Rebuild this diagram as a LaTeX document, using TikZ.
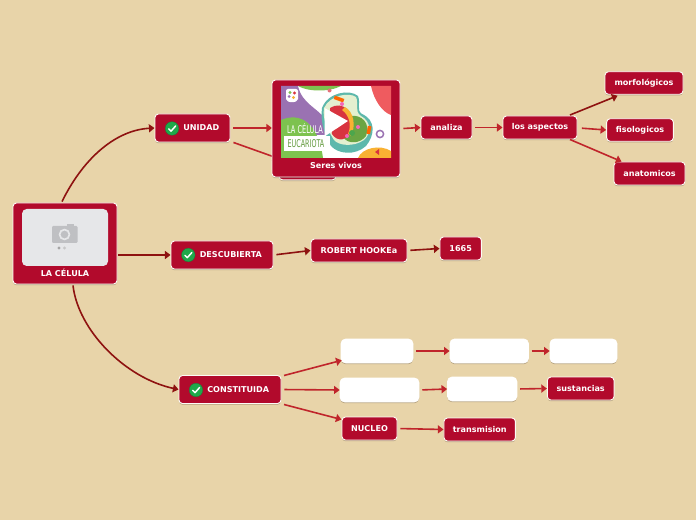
\documentclass[tikz,border=0pt]{standalone}
\usepackage{fontspec}
\usepackage{graphicx}
\setmainfont{DejaVu Sans}
\usetikzlibrary{arrows.meta,shadows,calc}
\definecolor{bgc}{HTML}{E8D4A9}
\definecolor{boxc}{HTML}{B20A2C}
\definecolor{darkc}{HTML}{8E1210}
\definecolor{redc}{HTML}{C0252B}
\definecolor{thumbgray}{HTML}{E6E7E9}
\definecolor{camgray}{HTML}{BFC0C3}
\definecolor{okgreen}{HTML}{1FA84A}
\definecolor{tpurple}{HTML}{9A72B2}
\definecolor{tgreen}{HTML}{7DC24F}
\definecolor{tcoral}{HTML}{EF5B5F}
\definecolor{tyellow}{HTML}{F9B233}
\definecolor{tteal}{HTML}{5DB8AC}
\definecolor{tlight}{HTML}{E4F0D0}
\definecolor{tred}{HTML}{D8343F}
\tikzset{
  x=0.75pt,y=-0.75pt,
  softshadow/.style={drop shadow={shadow xshift=0pt,shadow yshift=-0.9pt,opacity=.3,fill=black!70!brown}},
  labelfont/.style={font=\bfseries\fontsize{6.05}{8}\selectfont},
  redbox/.style={draw=white!90!bgc,line width=0.7pt,fill=boxc,rounded corners=2.6pt,inner sep=0pt,softshadow,
    text=white,labelfont,align=center},
  whitebox/.style={draw=white,line width=0.5pt,fill=white,rounded corners=3.4pt,inner sep=0pt,softshadow},
  conn/.style={line width=1.2pt,color=redc,-{Triangle[length=4.2pt,width=6pt]},shorten <=2.2pt},
  dconn/.style={conn,color=darkc},
  okcirc/.style={circle,fill=okgreen,draw=okgreen!70!black,line width=0.2pt,minimum size=10.2pt,inner sep=0pt},
  okmark/.style={draw=white,line width=1.1pt,line cap=round,line join=round},
  boxlabel/.style={text=white,labelfont,anchor=west,inner sep=0pt},
}
\begin{document}
\begin{tikzpicture}
\useasboundingbox (0,0) rectangle (696,520);
\fill[bgc] (0,0) rectangle (696,520);

\node[redbox,minimum width=78pt,minimum height=60.75pt] (cell) at (65,243.5) {};
\node[redbox,minimum width=56.25pt,minimum height=21pt] (unidad) at (192.5,128) {};
\node[redbox,minimum width=76.5pt,minimum height=21pt] (desc) at (222,255) {};
\node[redbox,minimum width=76.5pt,minimum height=21pt] (cons) at (230,389.5) {};
\node[redbox,minimum width=42.75pt,minimum height=32pt] (hidden) at (307.5,158.5) {};

\coordinate (c1) at ($(cell.north)+(-3,-1)$);
\coordinate (c2) at ($(cell.south)+(8,1)$);
\draw[dconn,shorten <=0pt] (c1) .. controls (85,155) and (118,130) .. (unidad.west);
\draw[dconn,shorten <=0.5pt] (cell.east |- desc.west) -- (desc.west);
\draw[dconn,shorten <=0pt] (c2) .. controls (78,330) and (125,378) .. (cons.west);
\draw[conn] (unidad.east) -- (272,128);
\coordinate (u3) at ($(unidad.south east)+(3,0)$);
\draw[conn,shorten <=0pt] (u3) -- (hidden.west);

\node[redbox,minimum width=96pt,minimum height=72.75pt] (pic) at (336,128.5) {};
\node[redbox,minimum width=38.25pt,minimum height=17.25pt] (analiza) at (446.5,127.5) {analiza};
\node[redbox,minimum width=55.5pt,minimum height=17.25pt] (asp) at (540,127.5) {los aspectos};
\node[redbox,minimum width=58.5pt,minimum height=16.9pt] (morf) at (644,83) {morfológicos};
\node[redbox,minimum width=50pt,minimum height=16.9pt] (fis) at (640,130) {fisologicos};
\node[redbox,minimum width=53.25pt,minimum height=17.25pt] (anat) at (649.5,173.5) {anatomicos};
\node[redbox,minimum width=72pt,minimum height=17.25pt] (rob) at (359,250.5) {ROBERT HOOKEa};
\node[redbox,minimum width=31.1pt,minimum height=17.25pt] (y1665) at (460.7,248.5) {1665};
\node[whitebox,minimum width=54pt,minimum height=18pt] (w1) at (377,351) {};
\node[whitebox,minimum width=58.9pt,minimum height=18pt] (w2) at (489.2,351) {};
\node[whitebox,minimum width=50.25pt,minimum height=18pt] (w3) at (583.5,351) {};
\node[whitebox,minimum width=59.25pt,minimum height=18pt] (w4) at (379.5,390) {};
\node[whitebox,minimum width=52.1pt,minimum height=18pt] (w5) at (482.2,389) {};
\node[redbox,minimum width=50pt,minimum height=17.25pt] (sust) at (580.7,388.5) {sustancias};
\node[redbox,minimum width=41.25pt,minimum height=17.25pt] (nuc) at (369.5,428.5) {NUCLEO};
\node[redbox,minimum width=53.6pt,minimum height=17.25pt] (trans) at (479.7,429.5) {transmision};

\coordinate (p1) at ($(pic.east)+(3,0)$);
\draw[conn,shorten <=0pt] (p1) -- (analiza.west);
\draw[conn] (analiza.east) -- (asp.west);
\coordinate (s1) at (570,115);
\coordinate (s2) at (579,128);
\coordinate (s3) at (570,139.5);
\coordinate (t1) at ($(morf.south west)+(13,1)$);
\coordinate (t3) at ($(anat.north west)+(8,0)$);
\draw[dconn,shorten <=0pt] (s1) -- (t1);
\draw[conn] (s2) -- (fis.west);
\draw[conn,shorten <=0pt] (s3) -- (t3);
\draw[dconn] (desc.east) -- (rob.west);
\draw[dconn] (rob.east) -- (y1665.west);
\coordinate (k1) at (284,375.5);
\coordinate (k3) at (284,404.5);
\coordinate (t4) at ($(w1.south west)+(1,-3)$);
\coordinate (t5) at ($(nuc.north west)+(0,3)$);
\draw[conn,shorten <=0pt] (k1) -- (t4);
\draw[conn] (cons.east) -- (w4.west);
\draw[conn,shorten <=0pt] (k3) -- (t5);
\draw[conn] (w1.east) -- (w2.west);
\draw[conn] (w2.east) -- (w3.west);
\draw[conn] (w4.east) -- (w5.west);
\draw[conn] (w5.east) -- (sust.west);
\draw[conn] (nuc.east) -- (trans.west);

% labels with check marks
\node[okcirc] (okU) at (172,128.5) {};
\draw[okmark] (168.7,128.8) -- (171,131.2) -- (175.6,126);
\node[boxlabel] (lU) at (183,128) {UNIDAD};
\node[okcirc] (okD) at (188.3,255) {};
\draw[okmark] (185,255.3) -- (187.3,257.7) -- (191.9,252.5);
\node[boxlabel] (lD) at (199.5,255) {DESCUBIERTA};
\node[okcirc] (okC) at (196,390) {};
\draw[okmark] (192.7,390.3) -- (195,392.7) -- (199.6,387.5);
\node[boxlabel] (lC) at (207,389.5) {CONSTITUIDA};

% LA CELULA thumbnail
\fill[thumbgray,rounded corners=3.5pt] (22,209) rectangle (108,266);
\fill[camgray,rounded corners=0.8pt] (52,226) rectangle (77.5,243);
\fill[camgray] (67,224) rectangle (74,227);
\draw[thumbgray,line width=1.3pt] (64.5,234.5) circle (4.9);
\fill[black!35] (59,248) circle (1.7);
\fill[black!22] (64.5,248) circle (1.7);
\node[text=white,labelfont,inner sep=0pt] (lcell) at (65,273) {LA CÉLULA};

% Video thumbnail
\begin{scope}
\clip (281,86) rectangle (391,158);
\fill[white] (281,86) rectangle (391,158);
\fill[tpurple] (281,86) -- (298,86) .. controls (302,104) and (318,108) .. (326,120) -- (326,135) -- (281,135) -- cycle;
\fill[tgreen] (281,120) .. controls (300,112) and (318,122) .. (323,158) -- (281,158) -- cycle;
\fill[tgreen] (298,86) .. controls (308,92) and (330,92) .. (341,86) -- cycle;
\fill[tcoral] (371,86) .. controls (374,100) and (382,112) .. (391,115) -- (391,86) -- cycle;
\fill[tyellow] (358,158) .. controls (362,148) and (380,144) .. (391,151) -- (391,158) -- cycle;
\fill[tred!70!white] (329.5,90.5) circle (2);
\fill[white,rounded corners=1.5pt] (286,89) -- (298,89) -- (298,101) -- (292,102.5) -- (286,101) -- cycle;
\fill[tgreen] (290,92.5) circle (1.7);
\fill[tred] (294.5,93) circle (1.7);
\fill[tyellow] (293.5,97.5) circle (1.7);
\fill[tpurple] (289,96.5) circle (1.5);
% cell
\fill[tteal] (322,108) .. controls (328,92) and (350,89) .. (358,96) .. controls (361,104) and (356,110) .. (362,114)
  .. controls (376,120) and (375,135) .. (366,146) .. controls (355,156) and (338,154) .. (331,146)
  .. controls (325,136) and (320,122) .. (322,108) -- cycle;
\fill[tlight] (324,108) .. controls (330,95) and (349,92) .. (356,97) .. controls (359,104) and (354,111) .. (361,116)
  .. controls (372,122) and (371,134) .. (364,140) .. controls (354,147) and (339,146) .. (334,140)
  .. controls (329,132) and (322,120) .. (324,108) -- cycle;
\fill[tgreen!85!black] (350,116) .. controls (362,114) and (371,124) .. (366,136) .. controls (360,144) and (348,144) .. (344,138) -- cycle;
\fill[tred] (330,108) .. controls (342,100) and (356,112) .. (352,128) .. controls (348,142) and (337,142) .. (332,134) -- cycle;
\fill[tyellow] (345,107) .. controls (354,112) and (356,126) .. (351,136) -- (348,134) .. controls (352,125) and (349,115) .. (342,110) -- cycle;
\fill[orange!80!red,rotate around={-20:(339,99)}] (334,97.2) rectangle (344,100.8);
\fill[orange!80!red,rotate around={80:(369,130)}] (365,128.2) rectangle (373,131.8);
\fill[green!50!black!70] (352,133) circle (3);
\fill[magenta!60] (342,104) circle (2);
\fill[magenta!60] (358,127) circle (2);
\fill[magenta!60] (347,136) circle (2);
\draw[tpurple,line width=1.1pt] (380,134) circle (3.6);
\fill[tred] (375,152) -- (379,149) -- (379,155) -- cycle;
\fill[white] (324.5,108) -- (348,121) -- (324.5,136.5) -- cycle;
\fill[white] (284,136) rectangle (329.5,151.5);
\node[text=white,inner sep=0pt,font=\fontsize{8}{9}\selectfont] (tl1) at (305,129) {\scalebox{.62}[1]{LA CÉLULA}};
\node[text=tgreen!80!black,inner sep=0pt,font=\fontsize{8}{9}\selectfont] (tl2) at (306,144) {\scalebox{.6}[1]{EUCARIOTA}};
\end{scope}
\node[text=white,labelfont,inner sep=0pt] (lpic) at (336,165) {Seres vivos};
\end{tikzpicture}
\end{document}
